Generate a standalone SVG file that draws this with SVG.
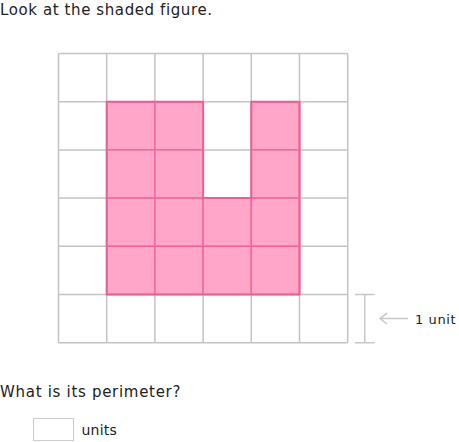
<svg xmlns="http://www.w3.org/2000/svg" width="459" height="442" viewBox="0 0 459 442">
<style>
text{font-family:"DejaVu Sans",Verdana,sans-serif;fill:#222;}
.grid{stroke:#c4c4c4;stroke-width:1.5;fill:none;}
.cell{fill:#ffa6c9;stroke:#f2679f;stroke-width:1.5;}
.outline{fill:none;stroke:#ee5e96;stroke-width:2;}
.scale{stroke:#c8c8c8;stroke-width:1.5;fill:none;}
</style>
<rect width="459" height="442" fill="#fff"/>
<text x="0" y="14.5" font-size="15" letter-spacing="0.6">Look at the shaded figure.</text>
<g id="shape">
<rect class="cell" x="106.7" y="101.7" width="48.2" height="48.2"/>
<rect class="cell" x="154.9" y="101.7" width="48.2" height="48.2"/>
<rect class="cell" x="251.3" y="101.7" width="48.2" height="48.2"/>
<rect class="cell" x="106.7" y="149.9" width="48.2" height="48.2"/>
<rect class="cell" x="154.9" y="149.9" width="48.2" height="48.2"/>
<rect class="cell" x="251.3" y="149.9" width="48.2" height="48.2"/>
<rect class="cell" x="106.7" y="198.1" width="48.2" height="48.2"/>
<rect class="cell" x="154.9" y="198.1" width="48.2" height="48.2"/>
<rect class="cell" x="203.1" y="198.1" width="48.2" height="48.2"/>
<rect class="cell" x="251.3" y="198.1" width="48.2" height="48.2"/>
<rect class="cell" x="106.7" y="246.3" width="48.2" height="48.2"/>
<rect class="cell" x="154.9" y="246.3" width="48.2" height="48.2"/>
<rect class="cell" x="203.1" y="246.3" width="48.2" height="48.2"/>
<rect class="cell" x="251.3" y="246.3" width="48.2" height="48.2"/>
</g>
<g id="grid" class="grid">
<path d="M58.5 53.5V342.7M106.7 53.5V101.7M106.7 294.5V342.7M154.9 53.5V101.7M154.9 294.5V342.7M203.1 53.5V198.1M203.1 294.5V342.7M251.3 53.5V101.7M251.3 294.5V342.7M299.5 53.5V342.7M347.7 53.5V342.7"/>
<path d="M58.5 53.5H347.7M58.5 101.7H106.7M203.1 101.7H251.3M299.5 101.7H347.7M58.5 149.9H106.7M203.1 149.9H251.3M299.5 149.9H347.7M58.5 198.1H106.7M299.5 198.1H347.7M58.5 246.3H106.7M299.5 246.3H347.7M58.5 294.5H106.7M299.5 294.5H347.7M58.5 342.7H347.7"/>
</g>
<path class="outline" d="M106.7 101.7H203.1V198.1H251.3V101.7H299.5V294.5H106.7Z"/>
<g id="scale">
<path class="scale" d="M355 294.5H374.5M355 342.7H374.5M364.8 294.5V342.7"/>
<path class="scale" d="M380 318.6H408M387 313.2L380 318.6L387 324" stroke="#bbb"/>
<text x="415" y="323.5" font-size="13" letter-spacing="0.6">1 unit</text>
</g>
<text x="0" y="396.5" font-size="15" letter-spacing="0.7">What is its perimeter?</text>
<g id="answer">
<rect x="33.5" y="418.5" width="40" height="22" fill="#fff" stroke="#ccc" stroke-width="1"/>
<text x="81.5" y="434.7" font-size="14" letter-spacing="0.2">units</text>
</g>
</svg>
